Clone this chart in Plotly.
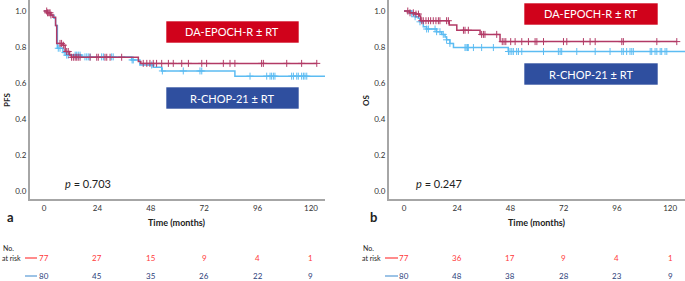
import plotly.graph_objects as go

W, H = 685, 281

# ---------------- data ----------------
# PFS (panel a)
pfs_red_t = [0, 1.5, 3.0, 4.0, 5.2, 5.7, 8.5, 9.5, 11.5, 12.3, 42.4, 43.5]
pfs_red_s = [1.0, 0.99, 0.978, 0.965, 0.92, 0.82, 0.81, 0.775, 0.756, 0.743, 0.72, 0.709]
pfs_red_end = 122.6
pfs_red_cens = [1.2, 1.6, 2.2, 2.7, 3.1, 7.2, 7.9, 8.7, 10.2, 10.9, 12.4, 13.2, 14.0, 14.7,
                15.4, 16.2, 20.7, 23.7, 24.4, 27.4, 28.2, 29.7, 34.9, 44.6, 46.2, 47.6,
                49.1, 50.6, 52.9, 55.9, 58.1, 61.9, 64.9, 70.9, 73.1, 80.6, 83.6, 85.8,
                97.8, 98.6, 109.1, 115.8, 122.6]

pfs_blue_t = [0, 1.5, 3.0, 4.5, 5.2, 6.0, 8.5, 10.0, 17.0, 39.4, 43.1, 49.1, 52.9, 85.8]
pfs_blue_s = [1.0, 0.99, 0.975, 0.96, 0.92, 0.793, 0.77, 0.755, 0.745, 0.728, 0.70, 0.687, 0.667, 0.638]
pfs_blue_end = 126.3
pfs_blue_cens = [6.4, 7.2, 9.4, 10.2, 10.9, 14.0, 14.7, 15.4, 16.2, 18.4, 19.2, 19.9, 20.7,
                 25.9, 26.7, 30.4, 31.1, 39.6, 40.1, 48.4, 53.2, 62.6, 70.1, 70.9, 92.6,
                 100.1, 101.6, 102.3, 103.1, 103.8, 111.3, 112.1, 113.6, 114.3, 115.8,
                 116.6, 117.3, 118.1]

# OS (panel b)
os_red_t = [0, 2.5, 5.0, 7.0, 7.5, 20.4, 23.8, 34.3, 43.3]
os_red_s = [1.0, 0.99, 0.983, 0.972, 0.946, 0.922, 0.893, 0.87, 0.83]
os_red_end = 123.0
os_red_cens = [1.7, 2.7, 4.2, 5.4, 6.5, 8.0, 8.7, 9.9, 11.0, 12.0, 13.2, 14.4, 15.5, 16.2,
               19.2, 20.0, 26.8, 27.5, 29.0, 35.0, 35.8, 36.5, 41.8, 44.3, 45.1, 45.9,
               48.1, 50.1, 53.1, 56.1, 59.1, 59.9, 62.9, 71.9, 73.4, 80.9, 83.9, 86.2,
               98.2, 98.9, 114.0, 123.0]

os_blue_t = [0, 3.5, 5.0, 6.4, 7.2, 8.7, 10.2, 14.7, 17.0, 18.5, 19.2, 20.7, 22.3, 47.0]
os_blue_s = [1.0, 0.985, 0.968, 0.96, 0.94, 0.913, 0.90, 0.885, 0.87, 0.855, 0.84, 0.82, 0.797, 0.775]
os_blue_end = 126.7
os_blue_cens = [3.5, 5.0, 7.2, 10.2, 11.0, 14.0, 14.7, 16.2, 17.7, 19.2, 20.7, 27.5, 28.0,
                28.6, 29.0, 31.3, 35.0, 40.3, 47.1, 47.8, 48.6, 49.3, 50.8, 51.6, 53.1,
                62.9, 69.6, 70.4, 71.1, 77.9, 86.2, 92.9, 98.2, 98.9, 100.4, 101.9, 102.7,
                103.4, 111.0, 111.7, 113.2, 114.0, 115.5, 116.2, 117.7, 118.5]

x_ticks = [0, 24, 48, 72, 96, 120]
y_ticks = [0.0, 0.2, 0.4, 0.6, 0.8, 1.0]
risk_a_red = [77, 27, 15, 9, 4, 1]
risk_a_blue = [80, 45, 35, 26, 22, 9]
risk_b_red = [77, 36, 17, 9, 4, 1]
risk_b_blue = [80, 48, 38, 28, 23, 9]

label_red = "DA-EPOCH-R ± RT"
label_blue = "R-CHOP-21 ± RT"

# ---------------- style ----------------
C_RED = "#b23a66"
C_BLUE = "#5cbcf2"
BOX_RED = "#d0021b"
BOX_BLUE = "#2f4f9f"
NUM_RED = "#ff3b3b"
NUM_BLUE = "#2c3e7a"
AX = "#a6a6a6"
FONT = "Lato"


def px(x):
    return x / W


def py(y):
    return 1 - y / H


def step_at(ts, ss, t):
    v = ss[0]
    for ti, si in zip(ts, ss):
        if ti <= t:
            v = si
    return v


fig = go.Figure()


def add_curve(ts, ss, end, cens, color, xa, ya):
    fig.add_trace(go.Scatter(x=list(ts) + [end], y=list(ss) + [ss[-1]], mode="lines",
                             line=dict(color=color, width=1.5, shape="hv"),
                             xaxis=xa, yaxis=ya, showlegend=False, hoverinfo="skip"))
    fig.add_trace(go.Scatter(x=cens, y=[step_at(ts, ss, c) for c in cens], mode="markers",
                             marker=dict(symbol="cross-thin-open", size=5, color=color,
                                         line=dict(color=color, width=1)),
                             xaxis=xa, yaxis=ya, showlegend=False, hoverinfo="skip"))


add_curve(pfs_blue_t, pfs_blue_s, pfs_blue_end, pfs_blue_cens, C_BLUE, "x", "y")
add_curve(pfs_red_t, pfs_red_s, pfs_red_end, pfs_red_cens, C_RED, "x", "y")
add_curve(os_blue_t, os_blue_s, os_blue_end, os_blue_cens, C_BLUE, "x2", "y2")
add_curve(os_red_t, os_red_s, os_red_end, os_red_cens, C_RED, "x2", "y2")

y_dom = [py(199), py(0)]
y_rng = [-8 / 180, 1 + 11 / 180]
axis_common = dict(showgrid=False, zeroline=False, showline=True, linecolor=AX, linewidth=2,
                   ticks="", tickfont=dict(family=FONT, size=8, color="#333333"))

fig.update_layout(
    width=W, height=H, margin=dict(l=0, r=0, t=0, b=0, autoexpand=False),
    plot_bgcolor="white", paper_bgcolor="white", showlegend=False,
    xaxis=dict(domain=[px(30), px(325)], range=[-6.3, 126.3], tickvals=x_ticks,
               anchor="y", **axis_common),
    yaxis=dict(domain=y_dom, range=y_rng, tickvals=y_ticks, tickformat=".1f",
               anchor="x", **axis_common),
    xaxis2=dict(domain=[px(389), px(685)], range=[-6.77, 126.7], tickvals=x_ticks,
                anchor="y2", **axis_common),
    yaxis2=dict(domain=y_dom, range=y_rng, tickvals=y_ticks, tickformat=".1f",
                anchor="x2", **axis_common),
)

shapes = []
ann = []


def box(x0, y0, x1, y1, color, text):
    shapes.append(dict(type="rect", xref="paper", yref="paper", x0=px(x0), x1=px(x1),
                       y0=py(y1), y1=py(y0), fillcolor=color,
                       line=dict(width=1, color="rgba(255,255,255,0.6)"), layer="above"))
    ann.append(dict(xref="paper", yref="paper", x=px((x0 + x1) / 2), y=py((y0 + y1) / 2),
                    text=text, showarrow=False, xanchor="center", yanchor="middle",
                    font=dict(family=FONT, size=11, color="white")))


def txt(x, y, text, size=8, color="#222222", xanchor="center", bold=False, angle=0):
    if bold:
        text = "<b>" + text + "</b>"
    ann.append(dict(xref="paper", yref="paper", x=px(x), y=py(y), text=text, showarrow=False,
                    xanchor=xanchor, yanchor="middle", textangle=angle,
                    font=dict(family=FONT, size=size, color=color)))


# panel a
box(166, 21, 299, 43, BOX_RED, label_red)
box(166, 87, 299, 109, BOX_BLUE, label_blue)
txt(63, 183, "<i>p</i> = 0.703", size=11, xanchor="left")
txt(7, 100, "PFS", size=8, bold=True, angle=-90)
txt(177, 222, "Time (months)", size=9, bold=True)
txt(10, 217, "a", size=13, bold=True)
# panel b
box(524, 3, 658, 25, BOX_RED, label_red)
box(524, 63, 658, 85, BOX_BLUE, label_blue)
txt(414, 183, "<i>p</i> = 0.247", size=11, xanchor="left")
txt(366, 100, "OS", size=8, bold=True, angle=-90)
txt(537, 222, "Time (months)", size=9, bold=True)
txt(373, 217, "b", size=13, bold=True)

ROW1, ROW2 = 258, 276


# risk tables
def risk_table(xref, x_left, red_vals, blue_vals, line_x0, line_x1):
    txt(x_left + 1, 248, "No.", size=7, xanchor="left")
    txt(x_left, ROW1, "at risk", size=7, xanchor="left")
    shapes.append(dict(type="line", xref="paper", yref="paper", x0=px(line_x0), x1=px(line_x1),
                       y0=py(ROW1), y1=py(ROW1), line=dict(color="#ff4040", width=1.2)))
    shapes.append(dict(type="line", xref="paper", yref="paper", x0=px(line_x0), x1=px(line_x1),
                       y0=py(ROW2), y1=py(ROW2), line=dict(color="#5b9bd5", width=1.2)))
    for t, r, b in zip(x_ticks, red_vals, blue_vals):
        ann.append(dict(xref=xref, yref="paper", x=t, y=py(ROW1), text=str(r), showarrow=False,
                        xanchor="center", yanchor="middle",
                        font=dict(family=FONT, size=8, color=NUM_RED)))
        ann.append(dict(xref=xref, yref="paper", x=t, y=py(ROW2), text=str(b), showarrow=False,
                        xanchor="center", yanchor="middle",
                        font=dict(family=FONT, size=8, color=NUM_BLUE)))


risk_table("x", 0, risk_a_red, risk_a_blue, 25, 37)
risk_table("x2", 360, risk_b_red, risk_b_blue, 385, 398)

fig.update_layout(shapes=shapes, annotations=ann)
fig.write_html("out.html", config={"displayModeBar": False},
               post_script="document.body.style.margin='0';document.body.style.padding='0';")
